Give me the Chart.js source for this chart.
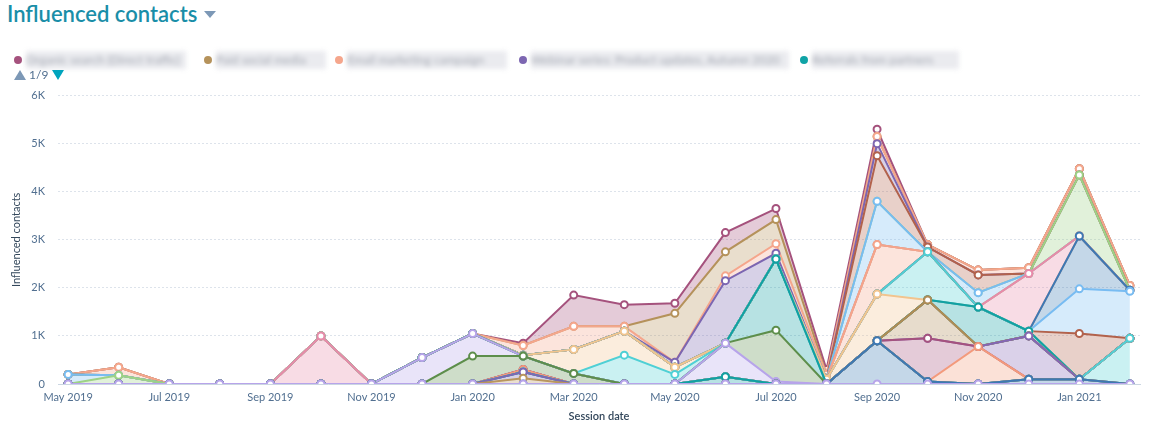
<!DOCTYPE html>
<html>
<head>
<meta charset="utf-8">
<script src="https://cdn.jsdelivr.net/npm/chart.js@4.4.1/dist/chart.umd.min.js"></script>
<style>
  body { margin: 0; background: #fff; width: 1163px; height: 432px; overflow: hidden; position: relative; font-family: Lato, "Open Sans", sans-serif; }
  #title { position: absolute; left: 7px; top: 0px; font-size: 22px; font-weight: 600; color: #1a8ea8; line-height: 28px; }
  #caret { position: absolute; left: 204px; top: 11px; width: 0; height: 0; border-left: 6px solid transparent; border-right: 6px solid transparent; border-top: 7px solid #7c98b6; }
  .lg { position: absolute; top: 52px; height: 16px; }
  .lg .dot { position: absolute; left: 0; top: 4px; width: 8px; height: 8px; border-radius: 50%; }
  .lg .txt { position: absolute; left: 12px; top: -1px; height: 18px; line-height: 18px; font-size: 12px; color: #a3a7b1; background: #eaebef; white-space: nowrap; overflow: hidden; filter: blur(2.5px); }
  #pager { position: absolute; left: 14px; top: 68px; font-size: 12px; color: #516f90; line-height: 14px; z-index: 2; }
  #pager .up { display: inline-block; width: 0; height: 0; border-left: 6px solid transparent; border-right: 6px solid transparent; border-bottom: 10px solid #7c98b6; vertical-align: -1px; }
  #pager .down { display: inline-block; width: 0; height: 0; border-left: 6px solid transparent; border-right: 6px solid transparent; border-top: 10px solid #00a4bd; vertical-align: -1px; }
  #wrap { position: absolute; left: 0; top: 76px; width: 1163px; height: 356px; }
  canvas { display: block; }
</style>
</head>
<body>
<div id="title">Influenced contacts</div>
<div id="caret"></div>

<div class="lg" style="left:14px"><span class="dot" style="background:#a5527d"></span><span class="txt" style="width:160px">Organic search (Direct traffic)</span></div>
<div class="lg" style="left:204px"><span class="dot" style="background:#b5925b"></span><span class="txt" style="width:110px">Paid social media</span></div>
<div class="lg" style="left:335px"><span class="dot" style="background:#f5a68c"></span><span class="txt" style="width:160px">Email marketing campaign</span></div>
<div class="lg" style="left:519px"><span class="dot" style="background:#7c66b1"></span><span class="txt" style="width:258px">Webinar series: Product updates, Autumn 2020</span></div>
<div class="lg" style="left:800px"><span class="dot" style="background:#0fa3a6"></span><span class="txt" style="width:147px">Referrals from partners</span></div>

<div id="wrap"><canvas id="chart" width="1163" height="356"></canvas></div>
<div id="pager"><span class="up"></span> 1/9 <span class="down"></span></div>

<script>
// Months (categories) and axis labels
const months = ['May 2019', 'Jun 2019', 'Jul 2019', 'Aug 2019', 'Sep 2019', 'Oct 2019', 'Nov 2019', 'Dec 2019',
  'Jan 2020', 'Feb 2020', 'Mar 2020', 'Apr 2020', 'May 2020', 'Jun 2020', 'Jul 2020', 'Aug 2020',
  'Sep 2020', 'Oct 2020', 'Nov 2020', 'Dec 2020', 'Jan 2021', 'Feb 2021'];
const xTicks = ['May 2019', 'Jul 2019', 'Sep 2019', 'Nov 2019', 'Jan 2020', 'Mar 2020', 'May 2020', 'Jul 2020', 'Sep 2020', 'Nov 2020', 'Jan 2021'];
const yTicks = [0, 1000, 2000, 3000, 4000, 5000, 6000];

// Series values (stack order: bottom first)
const baseLav   = [0, 0, 0, 0, 0, 0, 0, 0, 0, 0, 0, 0, 0, 0, 0, 0, 0, 0, 0, 0, 0, 0];
const dblue1    = [0, 0, 0, 0, 0, 0, 0, 0, 0, 0, 0, 0, 0, 0, 0, 0, 900, 50, 0, 100, 100, 0];
const tanLow    = [0, 0, 0, 0, 0, 0, 0, 0, 0, 120, 0, 0, 0, 0, 0, 0, 0, 0, 0, 0, 0, 0];
const purpleLow = [0, 0, 0, 0, 0, 0, 0, 0, 0, 130, 0, 0, 0, 0, 0, 0, 0, 0, 0, 0, 0, 0];
const tealLow   = [0, 0, 0, 0, 0, 0, 0, 0, 0, 0, 0, 0, 0, 150, 0, 0, 0, 0, 0, 0, 0, 0];
const turqB     = [0, 0, 0, 0, 0, 0, 0, 0, 0, 0, 0, 0, 0, 0, 0, 0, 0, 0, 0, 0, 0, 950];
const salmonLow = [0, 0, 0, 0, 0, 0, 0, 0, 0, 50, 0, 0, 0, 0, 0, 0, 0, 0, 780, 0, 0, 0];
const plum      = [0, 0, 0, 0, 0, 0, 0, 0, 0, 0, 0, 0, 0, 0, 0, 0, 0, 900, 0, 0, 0, 0];
const purple2   = [0, 0, 0, 0, 0, 0, 0, 0, 0, 0, 0, 0, 0, 0, 0, 0, 0, 0, 0, 900, 0, 0];
const tan2      = [0, 0, 0, 0, 0, 0, 0, 0, 0, 0, 0, 0, 0, 0, 0, 0, 0, 800, 0, 0, 0, 0];
const dgreen    = [0, 0, 0, 0, 0, 0, 0, 0, 580, 280, 220, 0, 0, 0, 0, 0, 0, 0, 0, 0, 0, 0];
const lavender  = [0, 0, 0, 0, 0, 0, 0, 550, 470, 0, 0, 0, 0, 700, 50, 0, 0, 0, 0, 0, 0, 0];
const dgreen2   = [0, 0, 0, 0, 0, 0, 0, 0, 0, 0, 0, 0, 0, 0, 1070, 0, 0, 0, 0, 0, 0, 0];
const dteal     = [0, 0, 0, 0, 0, 0, 0, 0, 0, 0, 0, 0, 0, 0, 1480, 0, 0, 0, 820, 100, 0, 0];
const turqLow   = [0, 0, 0, 0, 0, 0, 0, 0, 0, 0, 0, 600, 200, 0, 0, 0, 0, 0, 0, 0, 0, 0];
const cream     = [0, 0, 0, 0, 0, 0, 0, 0, 0, 20, 500, 500, 150, 0, 0, 100, 970, 0, 0, 0, 0, 0];
const turq      = [0, 0, 0, 0, 0, 0, 0, 0, 0, 0, 0, 0, 0, 0, 0, 0, 0, 1000, 0, 0, 0, 0];
const brownLow  = [0, 0, 0, 0, 0, 0, 0, 0, 0, 0, 0, 0, 0, 0, 0, 0, 0, 0, 0, 0, 950, 0];
const lblue2    = [0, 0, 0, 0, 0, 0, 0, 0, 0, 0, 0, 0, 0, 0, 0, 0, 0, 0, 0, 0, 930, 980];
const dblue2    = [0, 0, 0, 0, 0, 0, 0, 0, 0, 0, 0, 0, 0, 0, 0, 0, 0, 0, 0, 0, 1100, 20];
const salmonMid = [0, 0, 0, 0, 0, 0, 0, 0, 0, 0, 0, 0, 0, 0, 0, 0, 1030, 0, 0, 0, 0, 0];
const pink      = [0, 0, 0, 0, 0, 1000, 0, 0, 0, 0, 0, 0, 0, 0, 0, 0, 0, 0, 0, 1200, 0, 0];
const lgreen0   = [0, 180, 0, 0, 0, 0, 0, 0, 0, 0, 0, 0, 0, 0, 0, 0, 0, 0, 0, 0, 0, 0];
const lblue     = [200, 0, 0, 0, 0, 0, 0, 0, 0, 0, 0, 0, 0, 0, 0, 0, 900, 0, 300, 0, 0, 0];
const lgreen    = [0, 0, 0, 0, 0, 0, 0, 0, 0, 0, 0, 0, 0, 0, 0, 0, 0, 0, 0, 0, 1270, 0];
const brown     = [0, 0, 0, 0, 0, 0, 0, 0, 0, 0, 0, 0, 0, 0, 0, 0, 950, 100, 370, 0, 0, 0];
const purple    = [0, 0, 0, 0, 0, 0, 0, 0, 0, 0, 0, 0, 100, 1300, 120, 0, 250, 0, 0, 0, 0, 0];
const salmon    = [0, 170, 0, 0, 0, 0, 0, 0, 0, 200, 480, 100, 0, 100, 200, 100, 150, 50, 100, 120, 130, 100];
const tan       = [0, 0, 0, 0, 0, 0, 0, 0, 0, 0, 0, 0, 1020, 500, 500, 0, 0, 0, 0, 0, 0, 0];
const magenta   = [0, 0, 0, 0, 0, 0, 0, 0, 0, 50, 650, 450, 210, 400, 230, 100, 150, 0, 0, 0, 0, 0];

// colour per series
const series = [
  [baseLav, '#b7a4ea'], [dblue1, '#3d79b4'], [tanLow, '#b9965f'], [purpleLow, '#7f68b3'],
  [tealLow, '#12a0a2'], [turqB, '#4fd0d5'], [salmonLow, '#f39a7c'], [plum, '#a5527e'],
  [purple2, '#8467b5'], [tan2, '#b08c56'], [dgreen, '#5d8e4b'], [lavender, '#b7a4ea'],
  [dgreen2, '#5d8e4b'], [dteal, '#12a0a2'], [turqLow, '#4fd0d5'], [cream, '#f2c48e'],
  [turq, '#4fd0d5'], [brownLow, '#b2624c'], [lblue2, '#78bcf2'], [dblue2, '#3d79b4'],
  [salmonMid, '#f5a48a'], [pink, '#e88aaa'], [lgreen0, '#9dd286'], [lblue, '#78bcf2'],
  [lgreen, '#9dd286'], [brown, '#b2624c'], [purple, '#7c66b1'], [salmon, '#f5a68c'],
  [tan, '#b5925b'], [magenta, '#a5527d']
];

function hexToRgba(hex, a) {
  const n = parseInt(hex.slice(1), 16);
  return `rgba(${(n >> 16) & 255}, ${(n >> 8) & 255}, ${n & 255}, ${a})`;
}

const datasets = series.map(([data, color], i) => ({
  data: data,
  borderColor: color,
  backgroundColor: hexToRgba(color, 0.3),
  pointBorderColor: color,
  pointBackgroundColor: '#ffffff',
  fill: i === 0 ? false : '-1'
}));

const ctx = document.getElementById('chart').getContext('2d');
new Chart(ctx, {
  type: 'line',
  data: { labels: months.map((m, i) => i), datasets: datasets },
  options: {
    responsive: false,
    animation: false,
    layout: { padding: { top: 2, right: 23, left: 0, bottom: 0 } },
    plugins: { legend: { display: false }, tooltip: { enabled: false } },
    elements: {
      line: { tension: 0, borderWidth: 2 },
      point: { radius: 3.5, borderWidth: 2 }
    },
    scales: {
      x: {
        type: 'linear',
        min: -0.2,
        max: 21.2,
        afterBuildTicks: axis => { axis.ticks = xTicks.map(t => ({ value: months.indexOf(t) })); },
        afterFit: scale => { scale.height = 48; },
        grid: { display: false, drawTicks: false },
        border: { display: true, color: '#cbd6e2', width: 1 },
        ticks: {
          padding: 7,
          color: '#516f90',
          font: { family: 'Lato', size: 11 },
          maxRotation: 0,
          callback: v => months[v]
        },
        title: {
          display: true, text: 'Session date', color: '#33475b',
          font: { family: 'Lato', size: 11, weight: '600' },
          padding: { top: 0, bottom: 9 }
        }
      },
      y: {
        stacked: true,
        min: 0,
        max: 6000,
        afterBuildTicks: axis => { axis.ticks = yTicks.map(v => ({ value: v })); },
        afterFit: scale => { scale.width = 58; },
        grid: { color: '#dde3eb', drawTicks: false },
        border: { display: false, dash: [2, 2] },
        ticks: {
          padding: 13,
          color: '#516f90',
          font: { family: 'Lato', size: 11 },
          callback: v => v === 0 ? '0' : (v / 1000) + 'K'
        },
        title: {
          display: true, text: 'Influenced contacts', color: '#33475b',
          font: { family: 'Lato', size: 11 },
          padding: { top: 10, bottom: 0 }
        }
      }
    }
  }
});
</script>
</body>
</html>
